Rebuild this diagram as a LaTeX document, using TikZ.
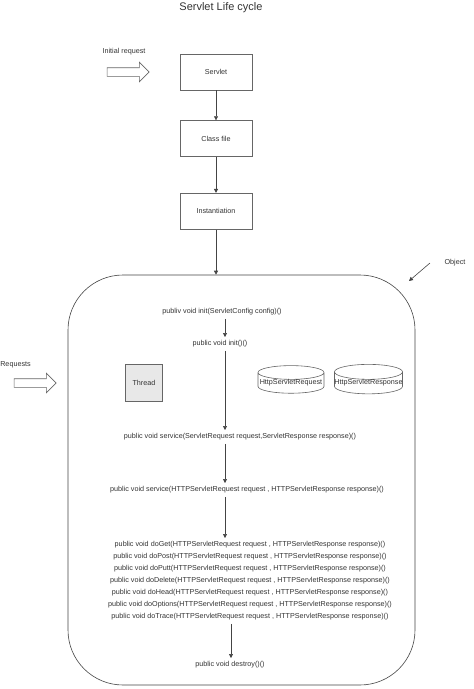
\documentclass[tikz,border=0pt]{standalone}
\usepackage{fontspec}
\setmainfont{Liberation Sans}
\usetikzlibrary{arrows.meta,positioning,shapes.geometric,shapes.arrows}

\definecolor{linegray}{HTML}{444444}
\definecolor{boxgray}{HTML}{666666}
\definecolor{textgray}{HTML}{333333}
\definecolor{threadfill}{HTML}{E8E8E8}

\begin{document}
\begin{tikzpicture}[x=1pt,y=-1pt,line width=0.6pt,
  every node/.style={text=textgray,font=\fontsize{7.2}{8.6}\selectfont},
  stage/.style={draw=boxgray,minimum width=72pt,minimum height=36pt,inner sep=0pt},
  store/.style={cylinder,shape border rotate=90,aspect=0.22,draw=boxgray,
    minimum width=66pt,minimum height=24pt,inner sep=0pt},
  flow/.style={draw=linegray,-{Triangle[length=4pt,width=4pt]}},
  request/.style={single arrow,draw=boxgray,minimum height=42pt,minimum width=19pt,
    single arrow head extend=5.5pt,text height=0pt,text depth=0pt,inner xsep=0pt,inner ysep=4pt}]
  \useasboundingbox (0,0) rectangle (474,689);

  \node[font=\fontsize{11}{13}\selectfont] (title) at (221,8) {Servlet Life cycle};

  % loading of the servlet
  \node[anchor=west] (initlabel) at (99,52) {Initial request};
  \node[request] (initarrow) at (126,72) {};
  \node[stage] (servlet) at (216,72) {Servlet};
  \node[stage] (classfile) [below=30pt of servlet] {Class file};
  \node[stage] (instantiation) [below=36pt of classfile] {Instantiation};

  % the servlet object
  \node[draw=linegray,rounded corners=55pt,minimum width=347pt,minimum height=410pt] (object) at (241.5,480) {};
  \node (objlabel) at (455,263) {Object};
  \coordinate (objtip) at (409,281);

  \node[anchor=west,inner sep=0pt] (reqlabel) at (0,365) {Requests};
  \node[request] (reqarrow) at (33,383) {};

  \node[draw=boxgray,fill=threadfill,minimum width=37pt,minimum height=37pt] (thread) at (144,383) {Thread};
  \node[store] (httpreq) at (291,383) {HttpServletRequest};
  \node[store] (httpresp) at (368.5,383) {HttpServletResponse};

  \node (initcfg) at (222,312) {publiv void init(ServletConfig config)()};
  \node (init) at (220,344) {public void init()()};
  \node (service) at (240,437) {public void service(ServletRequest request,ServletResponse response)()};
  \node (httpservice) at (247,490) {public void service(HTTPServletRequest request , HTTPServletResponse response)()};
  \node[align=center,font=\fontsize{7.2}{12}\selectfont] (doall) at (250,581) {%
    public void doGet(HTTPServletRequest request , HTTPServletResponse response)()\\
    public void doPost(HTTPServletRequest request , HTTPServletResponse response)()\\
    public void doPutt(HTTPServletRequest request , HTTPServletResponse response)()\\
    public void doDelete(HTTPServletRequest request , HTTPServletResponse response)()\\
    public void doHead(HTTPServletRequest request , HTTPServletResponse response)()\\
    public void doOptions(HTTPServletRequest request , HTTPServletResponse response)()\\
    public void doTrace(HTTPServletRequest request , HTTPServletResponse response)()};
  \node (destroy) at (230,665) {public void destroy()()};

  \coordinate (spine) at (225,0);
  \coordinate (lowspine) at (231,0);

  % Draw the flow from stage to stage
  \draw[flow] (servlet) -- (classfile);
  \draw[flow] (classfile) -- (instantiation);
  \draw[flow] (instantiation) -- (instantiation |- object.north);
  \draw[flow] ([xshift=-11pt]objlabel.west) -- (objtip);
  \draw[flow] (initcfg.south -| spine) -- (init.north -| spine);
  \draw[flow] (init.south -| spine) -- (service.north -| spine);
  \draw[flow] (service.south -| spine) -- (httpservice.north -| spine);
  \draw[flow] (httpservice.south -| spine) -- (doall.north -| spine);
  \draw[flow] (doall.south -| lowspine) -- (destroy.north -| lowspine);
\end{tikzpicture}
\end{document}
